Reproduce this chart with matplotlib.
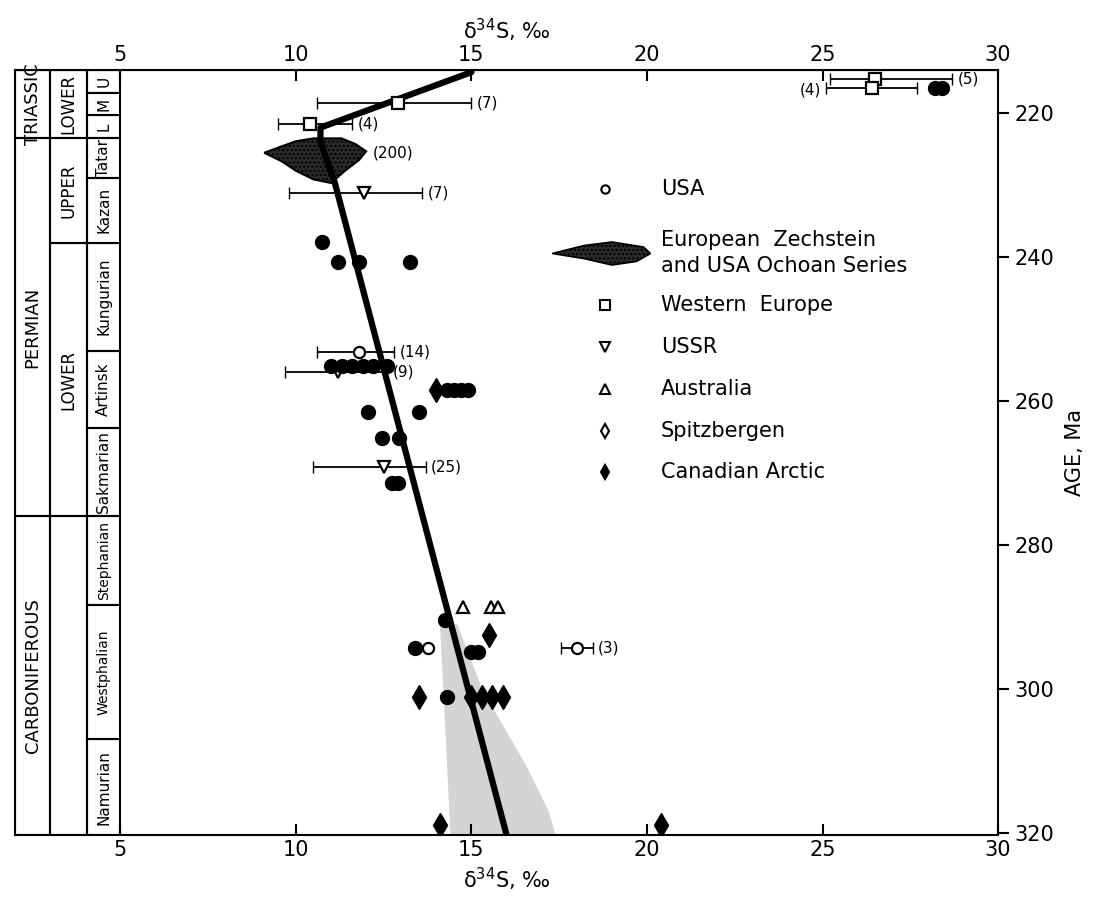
import matplotlib
matplotlib.use("Agg")
import matplotlib.pyplot as plt
import numpy as np
from matplotlib.patches import Polygon

plt.rcParams['font.family'] = ['DejaVu Sans']

# trend line (d34S, age)
line_x = [15.0, 10.7, 10.7, 11.1, 16.0]
line_y = [214.3, 222.0, 224.0, 229.5, 320.3]

# Western Europe squares with error bars
we_x = [12.9, 10.4, 26.5, 26.4]
we_y = [218.6, 221.5, 215.3, 216.5]
we_lo = [10.6, 9.5, 25.2, 25.1]
we_hi = [15.0, 11.6, 28.7, 27.7]
we_lab = ["(7)", "(4)", "(5)", "(4)"]

# USSR triangles with error bars
ussr_x = [11.95, 11.2, 12.5]
ussr_y = [231.1, 256.0, 269.2]
ussr_lo = [9.8, 9.7, 10.5]
ussr_hi = [13.6, 12.6, 13.7]
ussr_lab = ["(7)", "(9)", "(25)"]

# USA open circles
usa_x = [11.8, 18.0, 13.75]
usa_y = [253.2, 294.3, 294.3]
usa_lo = [10.6, 17.55, None]
usa_hi = [12.8, 18.45, None]
usa_lab = ["(14)", "(3)", ""]

# Australia triangles
aus_x = [14.75, 15.55, 15.75]
aus_y = [288.6, 288.6, 288.6]

# filled dots
dot_x = [10.75, 11.2, 11.8, 13.25, 11.0, 11.3, 11.6, 11.9, 12.2, 12.6,
         14.3, 14.5, 14.7, 14.9, 12.05, 13.5, 12.45, 12.95, 12.75, 12.9,
         14.25, 15.0, 15.2, 13.4, 14.3, 28.2, 28.4]
dot_y = [237.9, 240.7, 240.7, 240.7, 255.1, 255.1, 255.1, 255.1, 255.1, 255.1,
         258.5, 258.5, 258.5, 258.5, 261.5, 261.5, 265.1, 265.1, 271.4, 271.4,
         290.4, 294.9, 294.9, 294.3, 301.1, 216.5, 216.5]

# Canadian Arctic filled diamonds
can_x = [14.0, 15.5, 13.5, 15.0, 15.3, 15.6, 15.9, 14.1, 20.4]
can_y = [258.5, 292.5, 301.1, 301.1, 301.1, 301.1, 301.1, 318.9, 318.9]

# Zechstein / Ochoan wedge outline
wedge_x = [9.1, 9.6, 10.0, 10.5, 11.3, 11.7, 12.0, 11.8, 11.4, 11.0, 10.5, 10.0, 9.6]
wedge_y = [225.5, 224.6, 223.9, 223.5, 223.5, 224.3, 225.3, 226.5, 228.0, 229.7, 229.2, 228.0, 226.7]

# stipple band
band_x = [14.1, 14.2, 14.3, 14.4, 15.9, 17.4, 17.2, 16.6, 15.3, 14.6]
band_y = [291.0, 300.0, 310.0, 320.3, 320.3, 320.3, 317.0, 311.0, 300.0, 291.0]

# stratigraphy: (xmin, xmax, top, bottom, label)
systems = [(2.0, 3.0, 214.0, 223.5, "TRIASSIC"), (2.0, 3.0, 223.5, 276.0, "PERMIAN"),
           (2.0, 3.0, 276.0, 320.3, "CARBONIFEROUS")]
series = [(3.0, 4.05, 214.0, 223.5, "LOWER"), (3.0, 4.05, 223.5, 238.0, "UPPER"),
          (3.0, 4.05, 238.0, 276.0, "LOWER"), (3.0, 4.05, 276.0, 320.3, "")]
stages = [(4.05, 5.0, 214.0, 217.2, "U"), (4.05, 5.0, 217.2, 220.3, "M"), (4.05, 5.0, 220.3, 223.5, "L"),
          (4.05, 5.0, 223.5, 229.0, "Tatar"), (4.05, 5.0, 229.0, 238.0, "Kazan"),
          (4.05, 5.0, 238.0, 253.0, "Kungurian"), (4.05, 5.0, 253.0, 263.8, "Artinsk"),
          (4.05, 5.0, 263.8, 276.0, "Sakmarian"), (4.05, 5.0, 276.0, 288.3, "Stephanian"),
          (4.05, 5.0, 288.3, 307.0, "Westphalian"), (4.05, 5.0, 307.0, 320.3, "Namurian")]

fig = plt.figure(figsize=(10.97, 9.01), dpi=100)
ax = fig.add_axes([0.0137, 0.0733, 0.8961, 0.849])
ax.set_xlim(2, 30)
ax.set_ylim(320.3, 214.0)

band = Polygon(list(zip(band_x, band_y)), closed=True, facecolor='#d4d4d4', edgecolor='none', zorder=1)
ax.add_patch(band)
wedge = Polygon(list(zip(wedge_x, wedge_y)), closed=True, facecolor='#2a2a2a', edgecolor='black',
                hatch='....', lw=1.5, zorder=3)
ax.add_patch(wedge)
ax.plot(line_x, line_y, color='black', lw=4.5, zorder=4, solid_capstyle='round')

def ebars(xs, ys, lo, hi, labs, marker, side=None):
    for i, (x, y, l, h, t) in enumerate(zip(xs, ys, lo, hi, labs)):
        if l is not None:
            ax.errorbar([x], [y], xerr=[[x - l], [h - x]], fmt='none', ecolor='black', elinewidth=1.3,
                        capsize=4, zorder=5)
        ax.plot([x], [y], marker=marker, ms=8, mfc='white', mec='black', mew=1.6, ls='none', zorder=6)
        if t:
            if side and side[i] == 'L':
                ax.text(l - 0.15, y + 0.3, t, ha='right', va='center', fontsize=11)
            else:
                ax.text(h + 0.15, y, t, ha='left', va='center', fontsize=11)

ebars(we_x, we_y, we_lo, we_hi, we_lab, 's', side=['R', 'R', 'R', 'L'])
ebars(ussr_x, ussr_y, ussr_lo, ussr_hi, ussr_lab, 'v')
ebars(usa_x, usa_y, usa_lo, usa_hi, usa_lab, 'o')
ax.plot(aus_x, aus_y, '^', ms=9, mfc='white', mec='black', mew=1.6, ls='none', zorder=6)
ax.plot(dot_x, dot_y, 'o', ms=10, color='black', ls='none', zorder=6)
ax.plot(can_x, can_y, 'd', ms=12, color='black', ls='none', zorder=6)
ax.text(12.2, 225.5, "(200)", ha='left', va='center', fontsize=11)

# stratigraphic column
for group, fs in ((systems, 13), (series, 12), (stages, 11)):
    for (x0, x1, t, b, lab) in group:
        ax.plot([x0, x1, x1, x0, x0], [t, t, b, b, t], color='black', lw=1.5, zorder=2)
        if lab:
            ax.text((x0 + x1) / 2, (t + b) / 2, lab, rotation=90, ha='center', va='center',
                    fontsize=fs if (len(lab) < 10 or group is systems) else 10)

# legend
lx, tx = 18.8, 20.4
ax.plot([lx], [230.6], 'o', ms=6, mfc='white', mec='black', mew=1.5)
ax.text(tx, 230.6, "USA", va='center', fontsize=15)
lw_x = [17.3, 18.2, 19.0, 19.9, 20.1, 19.7, 19.0, 18.2]
lw_y = [239.5, 238.4, 237.9, 238.6, 239.5, 240.6, 241.1, 240.2]
ax.add_patch(Polygon(list(zip(lw_x, lw_y)), closed=True, facecolor='#2a2a2a', edgecolor='black',
                     hatch='....', lw=1.2))
ax.text(tx, 239.4, "European  Zechstein\nand USA Ochoan Series", va='center', fontsize=15, linespacing=1.4)
leg = [('s', 246.7, "Western  Europe"), ('v', 252.5, "USSR"), ('^', 258.3, "Australia"),
       ('d', 264.1, "Spitzbergen"), ('d', 269.9, "Canadian Arctic")]
for m, yy, t in leg:
    filled = t == "Canadian Arctic"
    ax.plot([lx], [yy], m, ms=7, mfc='black' if filled else 'white', mec='black', mew=1.5)
    ax.text(tx, yy, t, va='center', fontsize=15)

# axes
ticks = [5, 10, 15, 20, 25, 30]
ax.set_xticks(ticks)
ax.tick_params(axis='x', top=True, labeltop=False, bottom=True, labelbottom=True, direction='in',
               length=8, width=1.5, labelsize=15)
ax.set_xlabel("δ$^{34}$S, ‰", fontsize=15)
sec = ax.secondary_xaxis('top')
sec.set_xticks(ticks)
sec.tick_params(labelsize=15, direction='in', length=0)
sec.set_xlabel("δ$^{34}$S, ‰", fontsize=15)
ax.yaxis.tick_right()
ax.set_yticks([220, 240, 260, 280, 300, 320])
ax.tick_params(axis='y', which='major', direction='out', length=8, width=1.5, labelsize=15)
ax.yaxis.set_label_position('right')
ax.set_ylabel("AGE, Ma", fontsize=15, labelpad=8)
for s in ax.spines.values():
    s.set_linewidth(1.5)

fig.savefig("out.png", dpi=100)
